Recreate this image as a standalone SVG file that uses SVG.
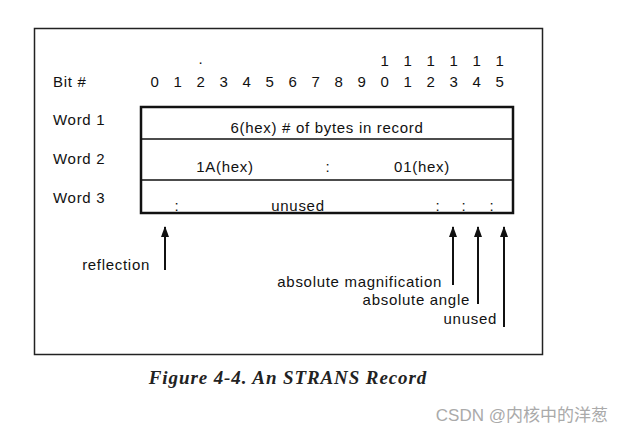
<svg xmlns="http://www.w3.org/2000/svg" width="624" height="437" viewBox="0 0 624 437">
<style>
.t{font-family:"Liberation Sans",Arial,sans-serif;font-size:15px;letter-spacing:0.7px;fill:#111}
.m{text-anchor:middle}
.e{text-anchor:end}
.c{stroke:#111;stroke-width:2;fill:none}
</style>
<defs><marker id="a" markerWidth="11" markerHeight="8" refX="10" refY="4" orient="auto" markerUnits="userSpaceOnUse"><path d="M0,0 L11,4 L0,8 Z" fill="#111"/></marker></defs>
<rect width="624" height="437" fill="#fff"/>
<rect x="34.5" y="28.5" width="508" height="326" fill="none" stroke="#222" stroke-width="1.5"/>
<g id="bits" class="t">
<text x="53" y="87">Bit #</text>
<g class="m">
<text x="155" y="87">0</text><text x="178" y="87">1</text><text x="201" y="87">2</text><text x="224" y="87">3</text><text x="247" y="87">4</text><text x="270" y="87">5</text><text x="293" y="87">6</text><text x="316" y="87">7</text><text x="339" y="87">8</text><text x="362" y="87">9</text><text x="385" y="87">0</text><text x="408" y="87">1</text><text x="431" y="87">2</text><text x="454" y="87">3</text><text x="477" y="87">4</text><text x="500" y="87">5</text>
<text x="385" y="66">1</text><text x="408" y="66">1</text><text x="431" y="66">1</text><text x="454" y="66">1</text><text x="477" y="66">1</text><text x="500" y="66">1</text>
<text x="201" y="64">.</text>
</g>
<text x="53" y="125">Word 1</text><text x="53" y="164">Word 2</text><text x="53" y="203">Word 3</text>
</g>
<g id="record">
<rect x="141" y="107" width="372" height="106" fill="none" stroke="#111" stroke-width="2.5"/>
<line x1="141" y1="139" x2="513" y2="139" stroke="#111" stroke-width="1.5"/>
<line x1="141" y1="180" x2="513" y2="180" stroke="#111" stroke-width="1.5"/>
<g class="t m">
<text x="327" y="133">6(hex) # of bytes in record</text>
<text x="225" y="172">1A(hex)</text><text x="328" y="172">:</text><text x="422" y="172">01(hex)</text>
<text x="298" y="211">unused</text><text x="177" y="211">:</text><text x="438" y="211">:</text><text x="464" y="211">:</text><text x="492" y="211">:</text>
</g>
</g>
<g id="connectors">
<line class="c" x1="165" y1="270" x2="165" y2="227" marker-end="url(#a)"/>
<line class="c" x1="453" y1="285" x2="453" y2="227" marker-end="url(#a)"/>
<line class="c" x1="478" y1="304" x2="478" y2="227" marker-end="url(#a)"/>
<line class="c" x1="504" y1="327" x2="504" y2="227" marker-end="url(#a)"/>
</g>
<g id="labels" class="t e">
<text x="150" y="270">reflection</text>
<text x="442" y="287">absolute magnification</text>
<text x="470" y="305">absolute angle</text>
<text x="497" y="324">unused</text>
</g>
<text x="288" y="384" text-anchor="middle" style="font-family:'Liberation Serif',serif;font-style:italic;font-weight:bold;font-size:19px;letter-spacing:0.9px" fill="#222">Figure 4-4.  An STRANS Record</text>
<text x="608" y="421" text-anchor="end" style="font-family:'Liberation Sans','Noto Sans CJK SC',sans-serif;font-size:17px" fill="#aaa">CSDN @内核中的洋葱</text>
</svg>
